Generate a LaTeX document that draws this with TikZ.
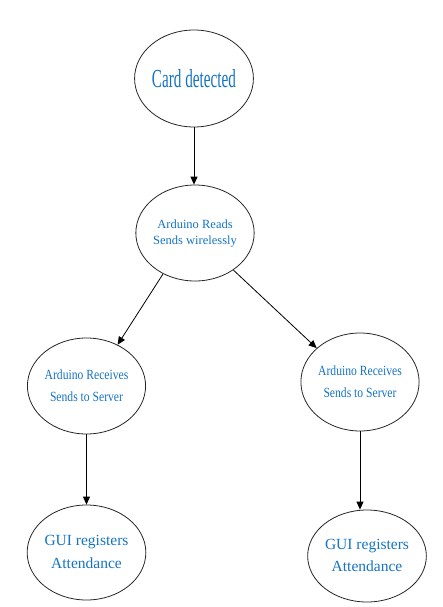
\documentclass[tikz,border=0pt]{standalone}
\usepackage{fontspec}
\usepackage{graphicx}
\setmainfont{Liberation Serif}
\usetikzlibrary{shapes.geometric,arrows.meta}
\definecolor{txtblue}{RGB}{20,115,195}
\begin{document}
\begin{tikzpicture}[x=1pt,y=-1pt,
  bub/.style={draw=black!85,line width=0.8pt,ellipse,inner sep=0pt,text=txtblue,align=center},
  conn/.style={draw=black,line width=0.8pt,-{Triangle[length=8pt,width=7pt]}}]
\useasboundingbox (0,0) rectangle (443,607);
\node[bub,minimum width=107pt,minimum height=97pt] (e1) at (194,78.5)
  {\fontsize{26}{30}\selectfont\scalebox{0.585}[1]{Card detected}};
\node[bub,minimum width=106pt,minimum height=96pt] (e2) at (195,233)
  {\raisebox{-2pt}{\fontsize{12.5}{16}\selectfont\begin{tabular}{@{}c@{}}Arduino Reads\\Sends wirelessly\end{tabular}}};
\node[bub,minimum width=107pt,minimum height=96pt] (e3) at (86.5,386)
  {\raisebox{-2pt}{\fontsize{14}{22}\selectfont\scalebox{0.83}[1]{\begin{tabular}{@{}c@{}}Arduino Receives\\Sends to Server\end{tabular}}}};
\node[bub,minimum width=116pt,minimum height=98pt] (e4) at (360,382)
  {\raisebox{-2pt}{\fontsize{14}{22}\selectfont\scalebox{0.83}[1]{\begin{tabular}{@{}c@{}}Arduino Receives\\Sends to Server\end{tabular}}}};
\node[bub,minimum width=105pt,minimum height=95pt] (e5) at (86.5,552.5)
  {\raisebox{-2pt}{\fontsize{15.5}{23}\selectfont\begin{tabular}{@{}c@{}}GUI registers\\Attendance\end{tabular}}};
\node[bub,minimum width=110pt,minimum height=92pt] (e6) at (367,556)
  {\raisebox{-4pt}{\fontsize{15.5}{22}\selectfont\begin{tabular}{@{}c@{}}GUI registers\\Attendance\end{tabular}}};
\draw[conn] (e1.south) -- (e1.south |- e2.north);
\draw[conn] (e2.232) -- (e3.53);
\draw[conn] (e2.316) -- (e4.142);
\draw[conn] (e3.south) -- (e5.north);
\draw[conn] (e4.south) -- (e4.south |- e6.north);
\end{tikzpicture}
\end{document}
